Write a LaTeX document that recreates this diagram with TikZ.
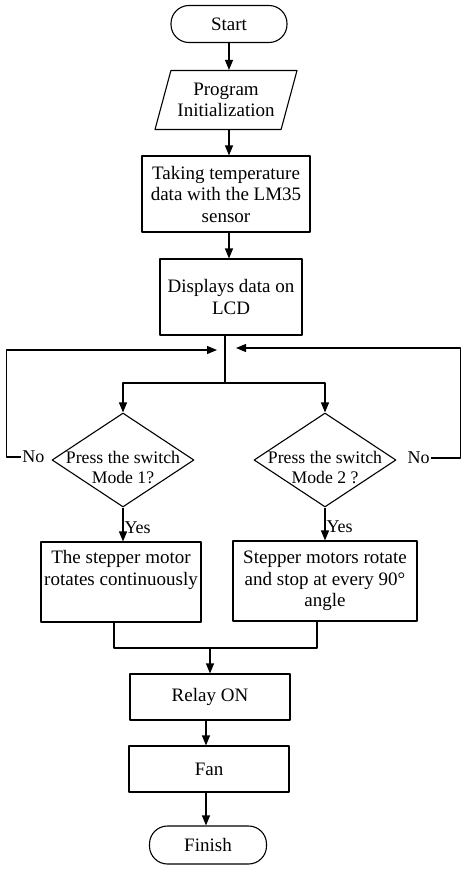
\documentclass[tikz,border=0pt]{standalone}
\usepackage{fontspec}
\setmainfont{Liberation Serif}
\usetikzlibrary{shapes.geometric,arrows.meta}
\begin{document}
\begin{tikzpicture}[x=1pt,y=-1pt,line width=1.1pt,line join=round,
	>={Triangle[length=10pt,width=8pt]},
	every node/.style={font=\fontsize{19}{21.5}\selectfont,align=center},
	term/.style={draw,rounded corners=18pt,minimum width=116pt,minimum height=37pt},
	io/.style={draw,trapezium,trapezium left angle=65,trapezium right angle=115,trapezium stretches body,minimum width=142pt,minimum height=59pt,inner sep=0pt},
	proc/.style={draw,minimum height=76pt,inner sep=2pt},
	dec/.style={draw,diamond,minimum width=142pt,minimum height=94pt,inner sep=0pt},
	dtext/.style={font=\fontsize{17.7}{20}\selectfont},
	lbl/.style={font=\fontsize{18}{20}\selectfont,inner sep=1pt}]
			\useasboundingbox (0,0) rectangle (474,870);
			\node[term] (start) at (229,24) {Start};
			\node[io] (init) at (226,100) {Program\\Initialization};
			\node[proc,minimum width=168pt] (take) at (226,194) {Taking temperature\\data with the LM35\\sensor};
			\node[proc,minimum width=142pt] (disp) at (231,297) {Displays data on\\LCD};
			\coordinate (jn) at (225,350);
			\coordinate (split) at (225,383);
			\node[dec] (d1) at (123,460) {};
			\node[dtext] at (123,467) {Press the switch\\Mode 1?};
			\node[dec] (d2) at (325,460) {};
			\node[dtext] at (325,467) {Press the switch\\Mode 2 ?};
			\node[lbl,anchor=east] (no1) at (46,457) {No};
			\node[lbl,anchor=west] (no2) at (406,458) {No};
			\node[proc,minimum width=160pt,minimum height=80pt] (m1) at (121,582) {The stepper motor\\rotates continuously\\\strut};
			\node[proc,minimum width=184pt,minimum height=80pt] (m2) at (325,581) {Stepper motors rotate\\and stop at every 90\textdegree\\angle};
			\coordinate (merge) at (210,648);
			\node[draw,minimum width=160pt,minimum height=46pt] (relay) at (210,697) {Relay ON};
			\node[draw,minimum width=160pt,minimum height=46pt] (fan) at (209,769) {Fan};
			\node[term,minimum width=117pt,minimum height=38pt] (finish) at (208,845) {Finish};
			\draw[->] (start.south) -- (start.south |- init.north);
			\draw[->] (start.south |- init.south) -- (start.south |- take.north);
			\draw[->] (start.south |- take.south) -- (start.south |- disp.north);
			\draw (disp.south -| jn) -- (split);
			\draw[->] (split) -| (d1.north);
			\draw[->] (split) -| (d2.north);
			\draw[->] (no1.west) -- ++(-14,0) |- ([xshift=-8pt]jn);
			\draw[->] (no2.east) -- ++(29,0) |- ([xshift=11pt,yshift=2pt]jn);
			\draw[->] (d1.south) -- (d1.south |- m1.north) node[lbl,midway,right,yshift=-3pt] {Yes};
			\draw[->] (d2.south) -- (d2.south |- m2.north) node[lbl,midway,right,yshift=-3pt] {Yes};
			\draw ([xshift=-7pt]m1.south) |- (merge) -| ([xshift=-8pt]m2.south);
			\draw[->] (merge) -- (relay.north);
			\draw[->] ([xshift=-4pt]relay.south) -- ([xshift=-4pt]relay.south |- fan.north);
			\draw[->] ([xshift=-3pt]fan.south) -- ([xshift=-3pt]fan.south |- finish.north);
\end{tikzpicture}
\end{document}
